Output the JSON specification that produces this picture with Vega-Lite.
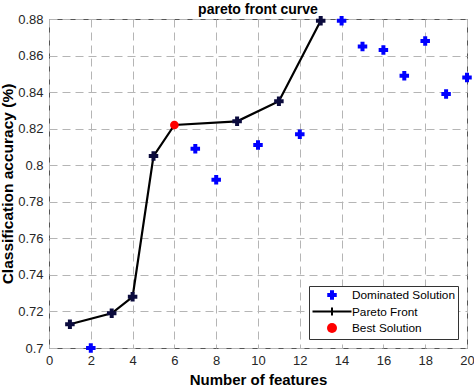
{
  "$schema": "https://vega.github.io/schema/vega-lite/v6.json",
  "width": 418,
  "height": 329,
  "autosize": {"type": "none"},
  "padding": {"left": 49, "top": 19, "right": 7, "bottom": 40},
  "background": "white",
  "title": {"text": "pareto front curve", "font": "Liberation Sans", "fontSize": 14, "fontWeight": "bold", "offset": -4, "color": "black"},
  "config": {
    "font": "Liberation Sans",
    "view": {"stroke": "#555555", "strokeWidth": 1}
  },
  "data": {
    "values": [
      {"features": 1, "accuracy": 0.713, "series": "Pareto Front"},
      {"features": 2, "accuracy": 0.700, "series": "Dominated Solution"},
      {"features": 3, "accuracy": 0.719, "series": "Pareto Front"},
      {"features": 4, "accuracy": 0.728, "series": "Pareto Front"},
      {"features": 5, "accuracy": 0.805, "series": "Pareto Front"},
      {"features": 6, "accuracy": 0.822, "series": "Best Solution"},
      {"features": 7, "accuracy": 0.809, "series": "Dominated Solution"},
      {"features": 8, "accuracy": 0.792, "series": "Dominated Solution"},
      {"features": 9, "accuracy": 0.824, "series": "Pareto Front"},
      {"features": 10, "accuracy": 0.811, "series": "Dominated Solution"},
      {"features": 11, "accuracy": 0.835, "series": "Pareto Front"},
      {"features": 12, "accuracy": 0.817, "series": "Dominated Solution"},
      {"features": 13, "accuracy": 0.879, "series": "Pareto Front"},
      {"features": 14, "accuracy": 0.879, "series": "Dominated Solution"},
      {"features": 15, "accuracy": 0.865, "series": "Dominated Solution"},
      {"features": 16, "accuracy": 0.863, "series": "Dominated Solution"},
      {"features": 17, "accuracy": 0.849, "series": "Dominated Solution"},
      {"features": 18, "accuracy": 0.868, "series": "Dominated Solution"},
      {"features": 19, "accuracy": 0.839, "series": "Dominated Solution"},
      {"features": 20, "accuracy": 0.848, "series": "Dominated Solution"}
    ]
  },
  "encoding": {
    "x": {
      "field": "features", "type": "quantitative",
      "scale": {"domain": [0, 20], "nice": false, "zero": false},
      "axis": {
        "title": "Number of features", "titleFontSize": 15, "titleFontWeight": "bold", "titleColor": "black", "titlePadding": 5,
        "values": [0, 2, 4, 6, 8, 10, 12, 14, 16, 18, 20],
        "labelFontSize": 13, "labelColor": "#262626", "labelPadding": 6, "labelFlush": false,
        "ticks": false, "domain": false,
        "grid": true, "gridDash": [8, 5], "gridColor": "#b5b5b5", "gridWidth": 1
      }
    },
    "y": {
      "field": "accuracy", "type": "quantitative",
      "scale": {"domain": [0.7, 0.88], "nice": false, "zero": false},
      "axis": {
        "title": "Classification accuracy (%)", "titleFontSize": 15.5, "titleFontWeight": "bold", "titleColor": "black", "titlePadding": 2,
        "values": [0.7, 0.72, 0.74, 0.76, 0.78, 0.8, 0.82, 0.84, 0.86, 0.88],
        "format": ".2~f",
        "labelFontSize": 13, "labelColor": "#262626", "labelPadding": 6, "labelFlush": false,
        "ticks": false, "domain": false,
        "grid": true, "gridDash": [8, 5], "gridColor": "#b5b5b5", "gridWidth": 1
      }
    }
  },
  "layer": [
    {
      "transform": [{"filter": "datum.series !== 'Dominated Solution'"}],
      "mark": {"type": "line", "color": "black", "strokeWidth": 2.2}
    },
    {
      "transform": [{"filter": "datum.series === 'Dominated Solution'"}],
      "mark": {"type": "point", "filled": true, "size": 100, "opacity": 1},
      "encoding": {
        "color": {
          "field": "series", "type": "nominal",
          "scale": {"domain": ["Dominated Solution", "Pareto Front", "Best Solution"], "range": ["#0000ff", "#000000", "#ff0000"]},
          "legend": {
            "title": null, "orient": "bottom-right", "offset": 9,
            "strokeColor": "#333333", "fillColor": "white", "padding": 3,
            "labelFontSize": 11.8, "labelColor": "black", "labelOffset": 14,
            "symbolOffset": 14, "symbolSize": 100, "rowPadding": 1.5, "symbolOpacity": 1
          }
        },
        "shape": {
          "field": "series", "type": "nominal",
          "scale": {"domain": ["Dominated Solution", "Pareto Front", "Best Solution"], "range": ["M-0.95,-0.4H-0.4V-0.95H0.4V-0.4H0.95V0.4H0.4V0.95H-0.4V0.4H-0.95Z", "M-3.9,-0.2H-0.2V-0.8H0.2V-0.2H3.9V0.2H0.2V0.8H-0.2V0.2H-3.9Z", "circle"]}
        }
      }
    },
    {
      "transform": [{"filter": "datum.series === 'Pareto Front'"}],
      "mark": {"type": "point", "filled": true, "size": 100, "opacity": 1, "color": "#0b0b3d", "shape": "M-0.95,-0.4H-0.4V-0.95H0.4V-0.4H0.95V0.4H0.4V0.95H-0.4V0.4H-0.95Z"}
    },
    {
      "transform": [{"filter": "datum.series === 'Best Solution'"}],
      "mark": {"type": "point", "filled": true, "size": 75, "opacity": 1, "color": "#ff0000", "shape": "circle"}
    }
  ]
}
